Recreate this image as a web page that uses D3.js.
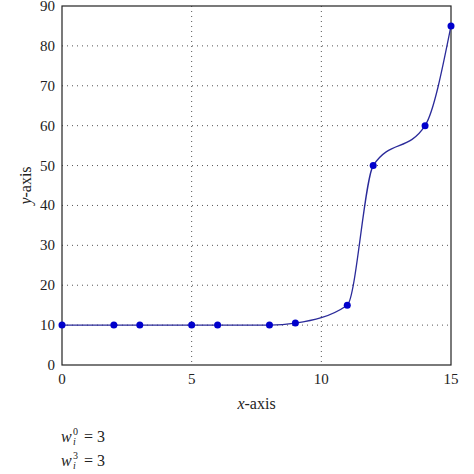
<!DOCTYPE html>
<html><head><meta charset="utf-8">
<script src="https://cdn.jsdelivr.net/npm/d3@7"></script>
<style>body{margin:0;background:#fff}svg text{font-family:'Liberation Serif','Times New Roman','DejaVu Serif',serif;fill:#222}</style>
</head><body><svg id="c" width="474" height="474"></svg>
<script>
const xs = [0, 2, 3, 5, 6, 8, 9, 11, 12, 14, 15];
const ys = [10, 10, 10, 10, 10, 10, 10.5, 15, 50, 60, 85];
const xTicks = [0, 5, 10, 15];
const yTicks = [0, 10, 20, 30, 40, 50, 60, 70, 80, 90];

const svg = d3.select("#c");
const L = 62, R = 451, T = 6, B = 365;
const x = d3.scaleLinear().domain([0, 15]).range([L, R]);
const y = d3.scaleLinear().domain([0, 90]).range([B, T]);

const grid = svg.append("g").attr("stroke", "#555").attr("stroke-width", 1).attr("stroke-dasharray", "1,4");
grid.selectAll(".gx").data(xTicks.slice(1, -1)).enter().append("line")
  .attr("x1", d => x(d)).attr("x2", d => x(d)).attr("y1", T).attr("y2", B);
grid.selectAll(".gy").data(yTicks.slice(1, -1)).enter().append("line")
  .attr("y1", d => y(d)).attr("y2", d => y(d)).attr("x1", L).attr("x2", R);

svg.append("rect").attr("x", L).attr("y", T).attr("width", R - L).attr("height", B - T)
  .attr("fill", "none").attr("stroke", "#222").attr("stroke-width", 1.2);

svg.append("g").selectAll("text").data(xTicks).enter().append("text")
  .attr("x", d => x(d)).attr("y", B + 19).attr("text-anchor", "middle").attr("font-size", 15).text(d => d);
svg.append("g").selectAll("text").data(yTicks).enter().append("text")
  .attr("x", L - 7).attr("y", d => y(d) + 5).attr("text-anchor", "end").attr("font-size", 15).text(d => d);

const pts = xs.map((d, i) => [d, ys[i]]);
svg.append("path").datum(pts).attr("fill", "none").attr("stroke", "#2b2b9a").attr("stroke-width", 1.3)
  .attr("d", d3.line().x(d => x(d[0])).y(d => y(d[1])).curve(d3.curveMonotoneX));
svg.append("g").selectAll("circle").data(pts).enter().append("circle")
  .attr("cx", d => x(d[0])).attr("cy", d => y(d[1])).attr("r", 3.5).attr("fill", "#0000cc");

const xl = svg.append("text").attr("x", x(7.5)).attr("y", 409).attr("text-anchor", "middle").attr("font-size", 16);
xl.append("tspan").attr("font-style", "italic").text("x");
xl.append("tspan").text("-axis");
const yl = svg.append("text").attr("transform", `translate(31,${y(45)}) rotate(-90)`).attr("text-anchor", "middle").attr("font-size", 16);
yl.append("tspan").attr("font-style", "italic").text("y");
yl.append("tspan").text("-axis");

[["0", 442], ["3", 466]].forEach(([s, yy]) => {
  const g = svg.append("g");
  g.append("text").attr("x", 61).attr("y", yy).attr("font-size", 16).attr("font-style", "italic").text("w");
  g.append("text").attr("x", 73).attr("y", yy - 7).attr("font-size", 10).text(s);
  g.append("text").attr("x", 73).attr("y", yy + 3).attr("font-size", 10).attr("font-style", "italic").text("i");
  g.append("text").attr("x", 84).attr("y", yy).attr("font-size", 16).text("= 3");
});
</script></body></html>
